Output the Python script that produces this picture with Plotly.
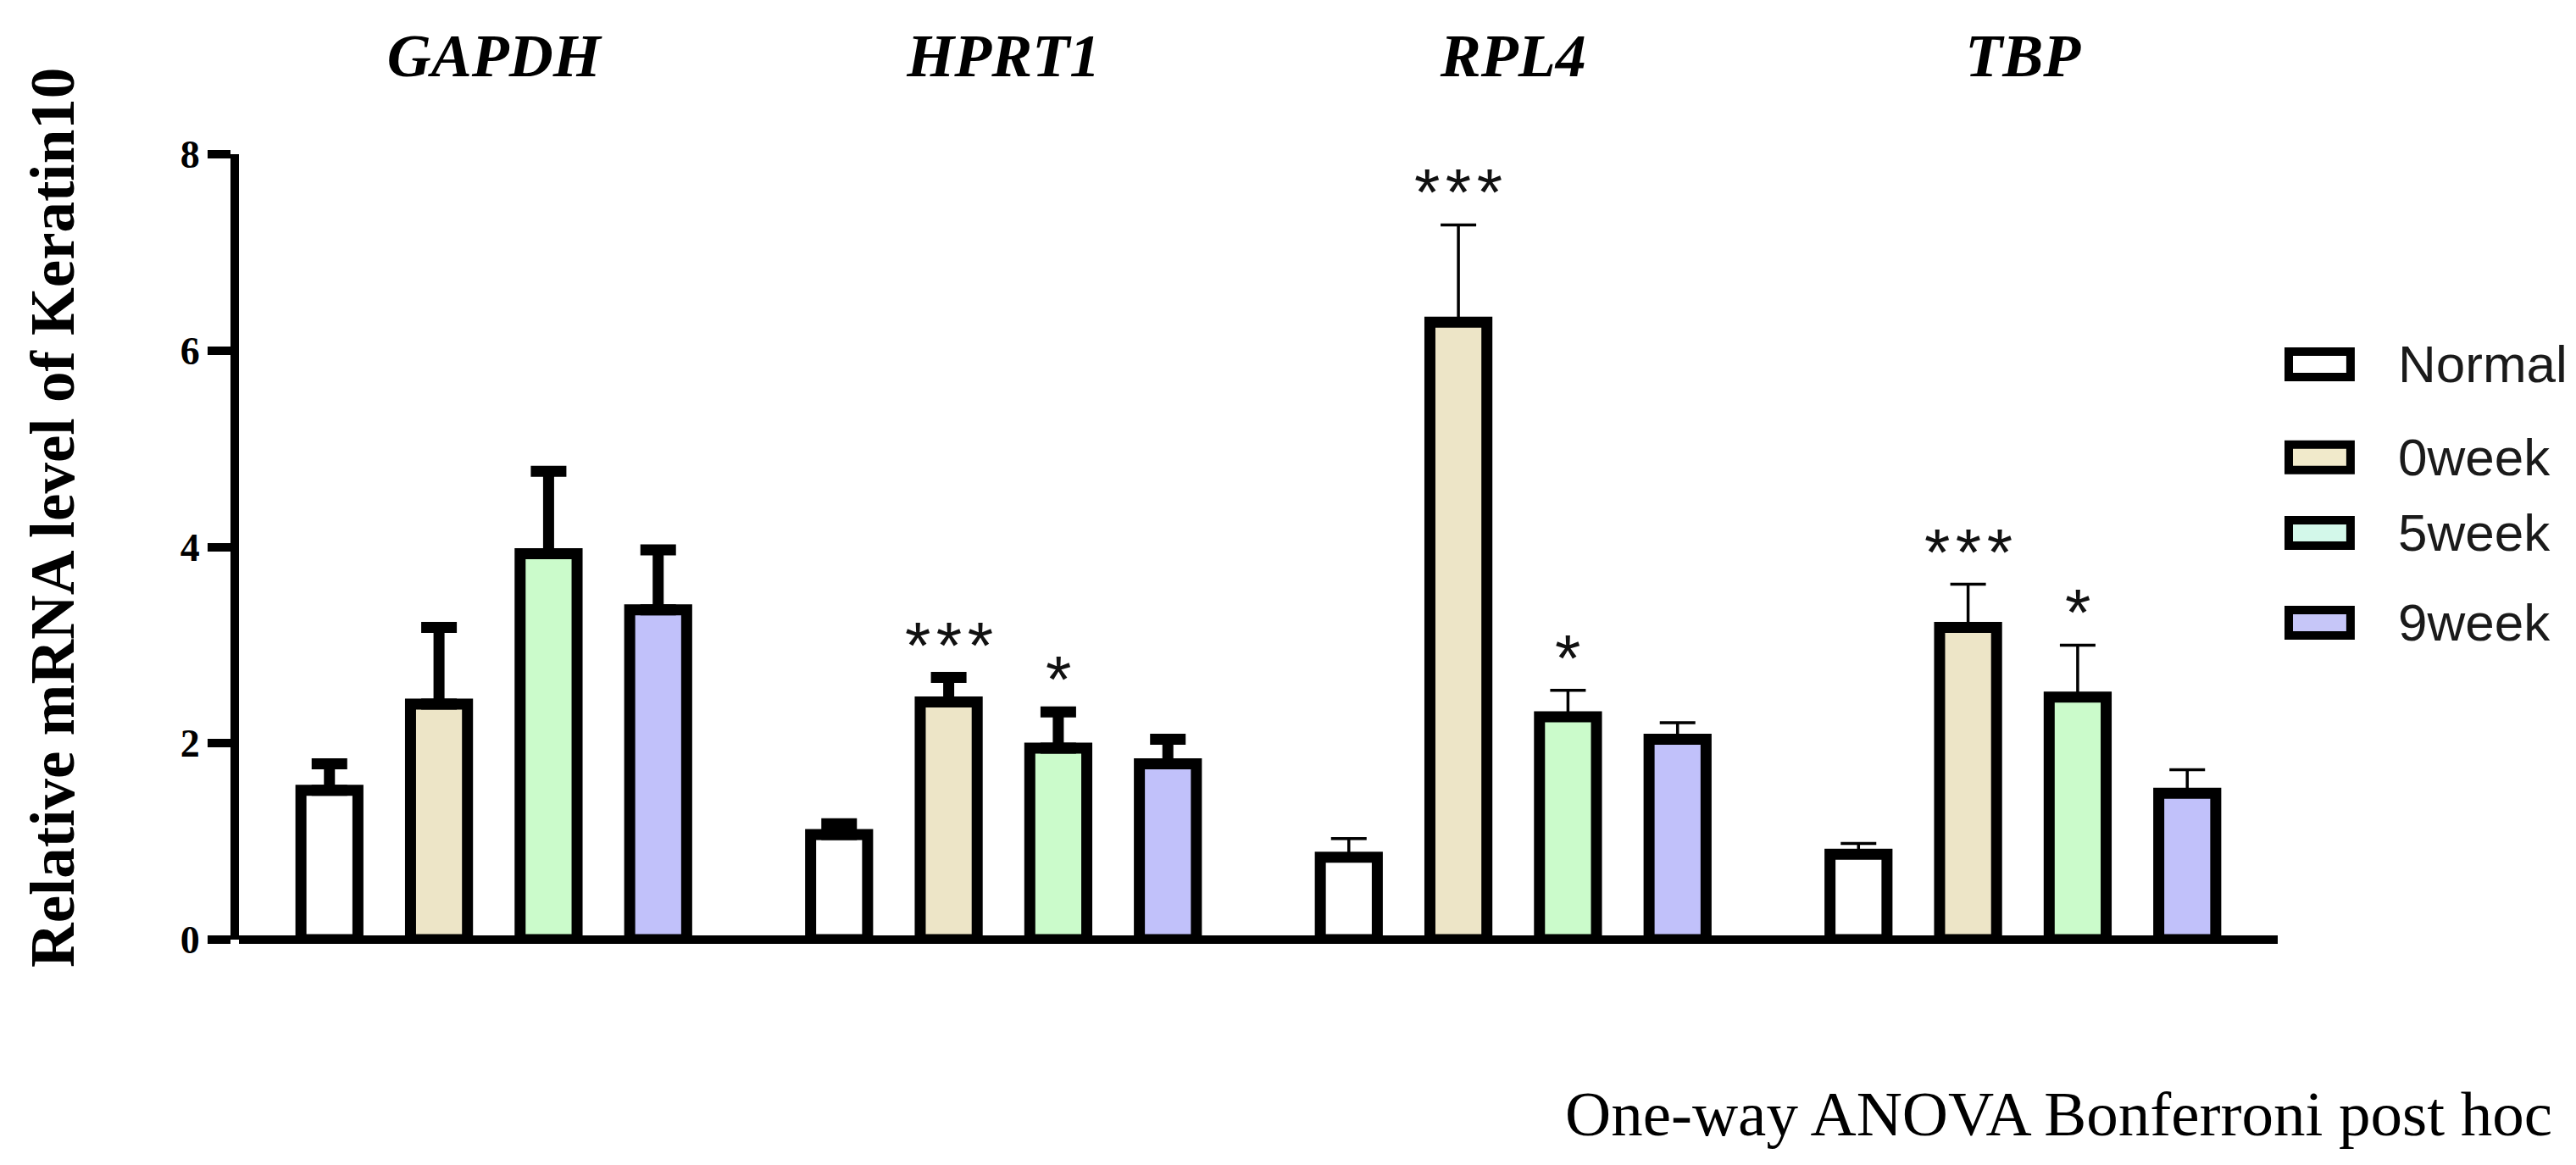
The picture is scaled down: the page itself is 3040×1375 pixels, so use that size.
import plotly.graph_objects as go

# values (bar height and upper SD)
genes = ["GAPDH", "HPRT1", "RPL4", "TBP"]
groups = ["Normal", "0week", "5week", "9week"]

normal = [1.52, 1.07, 0.84, 0.87]
normal_sd = [0.27, 0.11, 0.19, 0.11]
week0 = [2.40, 2.42, 6.29, 3.18]
week0_sd = [0.78, 0.25, 0.99, 0.44]
week5 = [3.93, 1.95, 2.27, 2.47]
week5_sd = [0.84, 0.37, 0.27, 0.53]
week9 = [3.36, 1.79, 2.04, 1.49]
week9_sd = [0.61, 0.25, 0.17, 0.24]

# significance marks vs Normal
week0_sig = ["", "***", "***", "***"]
week5_sig = ["", "*", "*", "*"]

fills = ["#FFFFFF", "#EDE5C7", "#CBFBCB", "#C1C1FA"]
legend_fills = ["#FFFFFF", "#F1EACB", "#D3F8EA", "#C6C6F8"]

series = [
    ("Normal", normal, normal_sd),
    ("0week", week0, week0_sd),
    ("5week", week5, week5_sd),
    ("9week", week9, week9_sd),
]

BARGAP = 0.14
SERIF = "Liberation Serif, Times New Roman, serif"
SANS = "Liberation Sans, Arial, sans-serif"

fig = go.Figure()
for k, (name, vals, sd) in enumerate(series):
    # first two genes drawn with heavy error bars, last two with thin ones
    for sl, thick in ((slice(0, 2), 13), (slice(2, 4), 3.5)):
        fig.add_trace(
            go.Bar(
                x=genes[sl],
                y=vals[sl],
                name=name,
                offsetgroup=name,
                legendgroup=name,
                showlegend=False,
                marker=dict(color=fills[k], line=dict(color="black", width=13)),
                error_y=dict(
                    type="data",
                    array=sd[sl],
                    arrayminus=[0] * len(sd[sl]),
                    symmetric=False,
                    color="black",
                    thickness=thick,
                    width=21,
                ),
            )
        )

slot = (1 - BARGAP) / len(groups)
annotations = []
for k, (vals, sd, sig) in ((1, (week0, week0_sd, week0_sig)), (2, (week5, week5_sd, week5_sig))):
    for i, s in enumerate(sig):
        if not s:
            continue
        annotations.append(
            dict(
                x=i + (k - 1.5) * slot,
                y=vals[i] + sd[i],
                xref="x",
                yref="y",
                text="\u200a".join(s),
                showarrow=False,
                yanchor="bottom",
                yshift=-8,
                font=dict(family=SANS, size=78, color="#111"),
            )
        )

# y title
annotations.append(
    dict(
        x=-0.0915, y=0.537, xref="paper", yref="paper",
        text="Relative mRNA level of Keratin10",
        textangle=-90, showarrow=False,
        xanchor="center", yanchor="middle",
        font=dict(family=SERIF, size=73, color="black", weight="bold"),
    )
)

# footnote
annotations.append(
    dict(
        x=1.1355, y=-0.222, xref="paper", yref="paper",
        text="One-way ANOVA Bonferroni post hoc",
        showarrow=False, xanchor="right", yanchor="middle",
        font=dict(family=SERIF, size=75, color="black"),
    )
)

# legend drawn as boxes + labels
shapes = []
row_y = [0.7325, 0.614, 0.5178, 0.4035]
half_h = 0.0162
for k, name in enumerate(groups):
    shapes.append(
        dict(
            type="rect", xref="paper", yref="paper",
            x0=1.0054, x1=1.0357, y0=row_y[k] - half_h, y1=row_y[k] + half_h,
            line=dict(color="black", width=10),
            fillcolor=legend_fills[k],
        )
    )
    annotations.append(
        dict(
            x=1.0582, y=row_y[k], xref="paper", yref="paper",
            text=name, showarrow=False, xanchor="left", yanchor="middle",
            font=dict(family=SANS, size=62, color="#1a1a1a"),
        )
    )

fig.update_layout(
    width=3040,
    height=1375,
    margin=dict(l=274, r=360, t=174, b=274),
    paper_bgcolor="white",
    plot_bgcolor="white",
    barmode="group",
    bargap=BARGAP,
    bargroupgap=0.48,
    showlegend=False,
    annotations=annotations,
    shapes=shapes,
    xaxis=dict(
        type="category",
        categoryorder="array",
        categoryarray=genes,
        side="top",
        showline=False,
        showgrid=False,
        zeroline=False,
        ticks="outside",
        ticklen=62,
        tickcolor="rgba(0,0,0,0)",
        tickfont=dict(family=SERIF, size=72, color="black", weight="bold", style="italic"),
    ),
    yaxis=dict(
        range=[0, 8],
        tickvals=[0, 2, 4, 6, 8],
        showline=True,
        linecolor="black",
        linewidth=10,
        ticks="outside",
        ticklen=27,
        tickwidth=10,
        tickcolor="black",
        showgrid=False,
        zeroline=True,
        zerolinecolor="black",
        zerolinewidth=10,
        tickfont=dict(family=SERIF, size=46, color="black", weight="bold"),
    ),
)

fig.write_html("out.html")
